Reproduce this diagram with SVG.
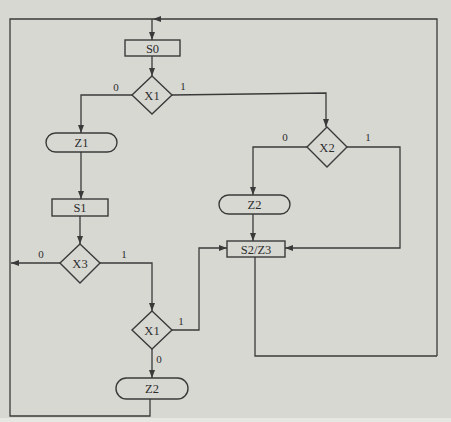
<svg xmlns="http://www.w3.org/2000/svg" width="451" height="422" viewBox="0 0 451 422">
<defs>
<marker id="arr" markerWidth="8" markerHeight="6" refX="8" refY="3" orient="auto" markerUnits="userSpaceOnUse">
<path d="M0,0 L8,3 L0,6 Z" fill="#3a3a3a"/>
</marker>
<style>
.bg{fill:#d8d8d3}
.shape{fill:none;stroke:#3a3a3a;stroke-width:1.4}
.line{fill:none;stroke:#3a3a3a;stroke-width:1.3}
.arrow{marker-end:url(#arr)}
text{font-family:"Liberation Serif","DejaVu Serif",serif;font-size:12.5px;fill:#2c2c2c;text-anchor:middle}
.lbl{font-size:11px}
</style>
</defs>
<rect class="bg" x="0" y="0" width="451" height="422"/>
<rect x="0" y="418" width="451" height="4" fill="#e6e6e3"/>

<g id="connectors">
  <polyline class="line" points="437,356 437,19 152,19"/>
  <path d="M153,19 L161,16 L161,22 Z" fill="#3a3a3a"/>
  <polyline class="line" points="255,257 255,356 437,356"/>
  <polyline class="line" points="150,399 150,416 10,416 10,19 152,19"/>
  <polyline class="line arrow" points="152,19 152,40"/>
  <polyline class="line arrow" points="152,56 152,76"/>
  <polyline class="line arrow" points="132,95 81,95 81,133"/>
  <polyline class="line arrow" points="172,95 326,93 326,127"/>
  <polyline class="line arrow" points="81,152 81,199"/>
  <polyline class="line arrow" points="80,216 80,244"/>
  <polyline class="line arrow" points="60,263 11,263"/>
  <polyline class="line arrow" points="100,263 152,263 152,311"/>
  <polyline class="line arrow" points="172,330 199,330 199,248 227,248"/>
  <polyline class="line arrow" points="152,349 152,378"/>
  <polyline class="line arrow" points="307,147 253,147 253,195"/>
  <polyline class="line arrow" points="347,147 400,147 400,248 285,248"/>
  <polyline class="line arrow" points="253,214 253,241"/>
  <text class="lbl" x="116" y="91">0</text>
  <text class="lbl" x="183" y="90">1</text>
  <text class="lbl" x="285" y="141">0</text>
  <text class="lbl" x="368" y="141">1</text>
  <text class="lbl" x="41" y="258">0</text>
  <text class="lbl" x="124" y="258">1</text>
  <text class="lbl" x="181" y="325">1</text>
  <text class="lbl" x="159" y="363">0</text>
</g>

<g id="S0">
  <rect class="shape" x="125" y="40" width="55" height="16"/>
  <text x="152.5" y="52.5">S0</text>
</g>
<g id="X1_top">
  <polygon class="shape" points="152,76 172,95 152,114 132,95"/>
  <text x="152" y="99.5">X1</text>
</g>
<g id="Z1">
  <rect class="shape" x="46" y="133" width="71" height="19" rx="9.5"/>
  <text x="81.5" y="147">Z1</text>
</g>
<g id="S1">
  <rect class="shape" x="52" y="199" width="56" height="17"/>
  <text x="80" y="212">S1</text>
</g>
<g id="X3">
  <polygon class="shape" points="80,244 100,263 80,283 60,263"/>
  <text x="80" y="267.5">X3</text>
</g>
<g id="X1_bottom">
  <polygon class="shape" points="152,311 172,330 152,349 132,330"/>
  <text x="152" y="334.5">X1</text>
</g>
<g id="Z2_bottom">
  <rect class="shape" x="116" y="378" width="72" height="21" rx="10.5"/>
  <text x="152" y="393">Z2</text>
</g>
<g id="X2">
  <polygon class="shape" points="327,127 347,147 327,167 307,147"/>
  <text x="327" y="151.5">X2</text>
</g>
<g id="Z2_right">
  <rect class="shape" x="219" y="195" width="71" height="19" rx="9.5"/>
  <text x="254.5" y="209">Z2</text>
</g>
<g id="S2Z3">
  <rect class="shape" x="227" y="241" width="58" height="16"/>
  <text x="256" y="253.5">S2/Z3</text>
</g>
</svg>
